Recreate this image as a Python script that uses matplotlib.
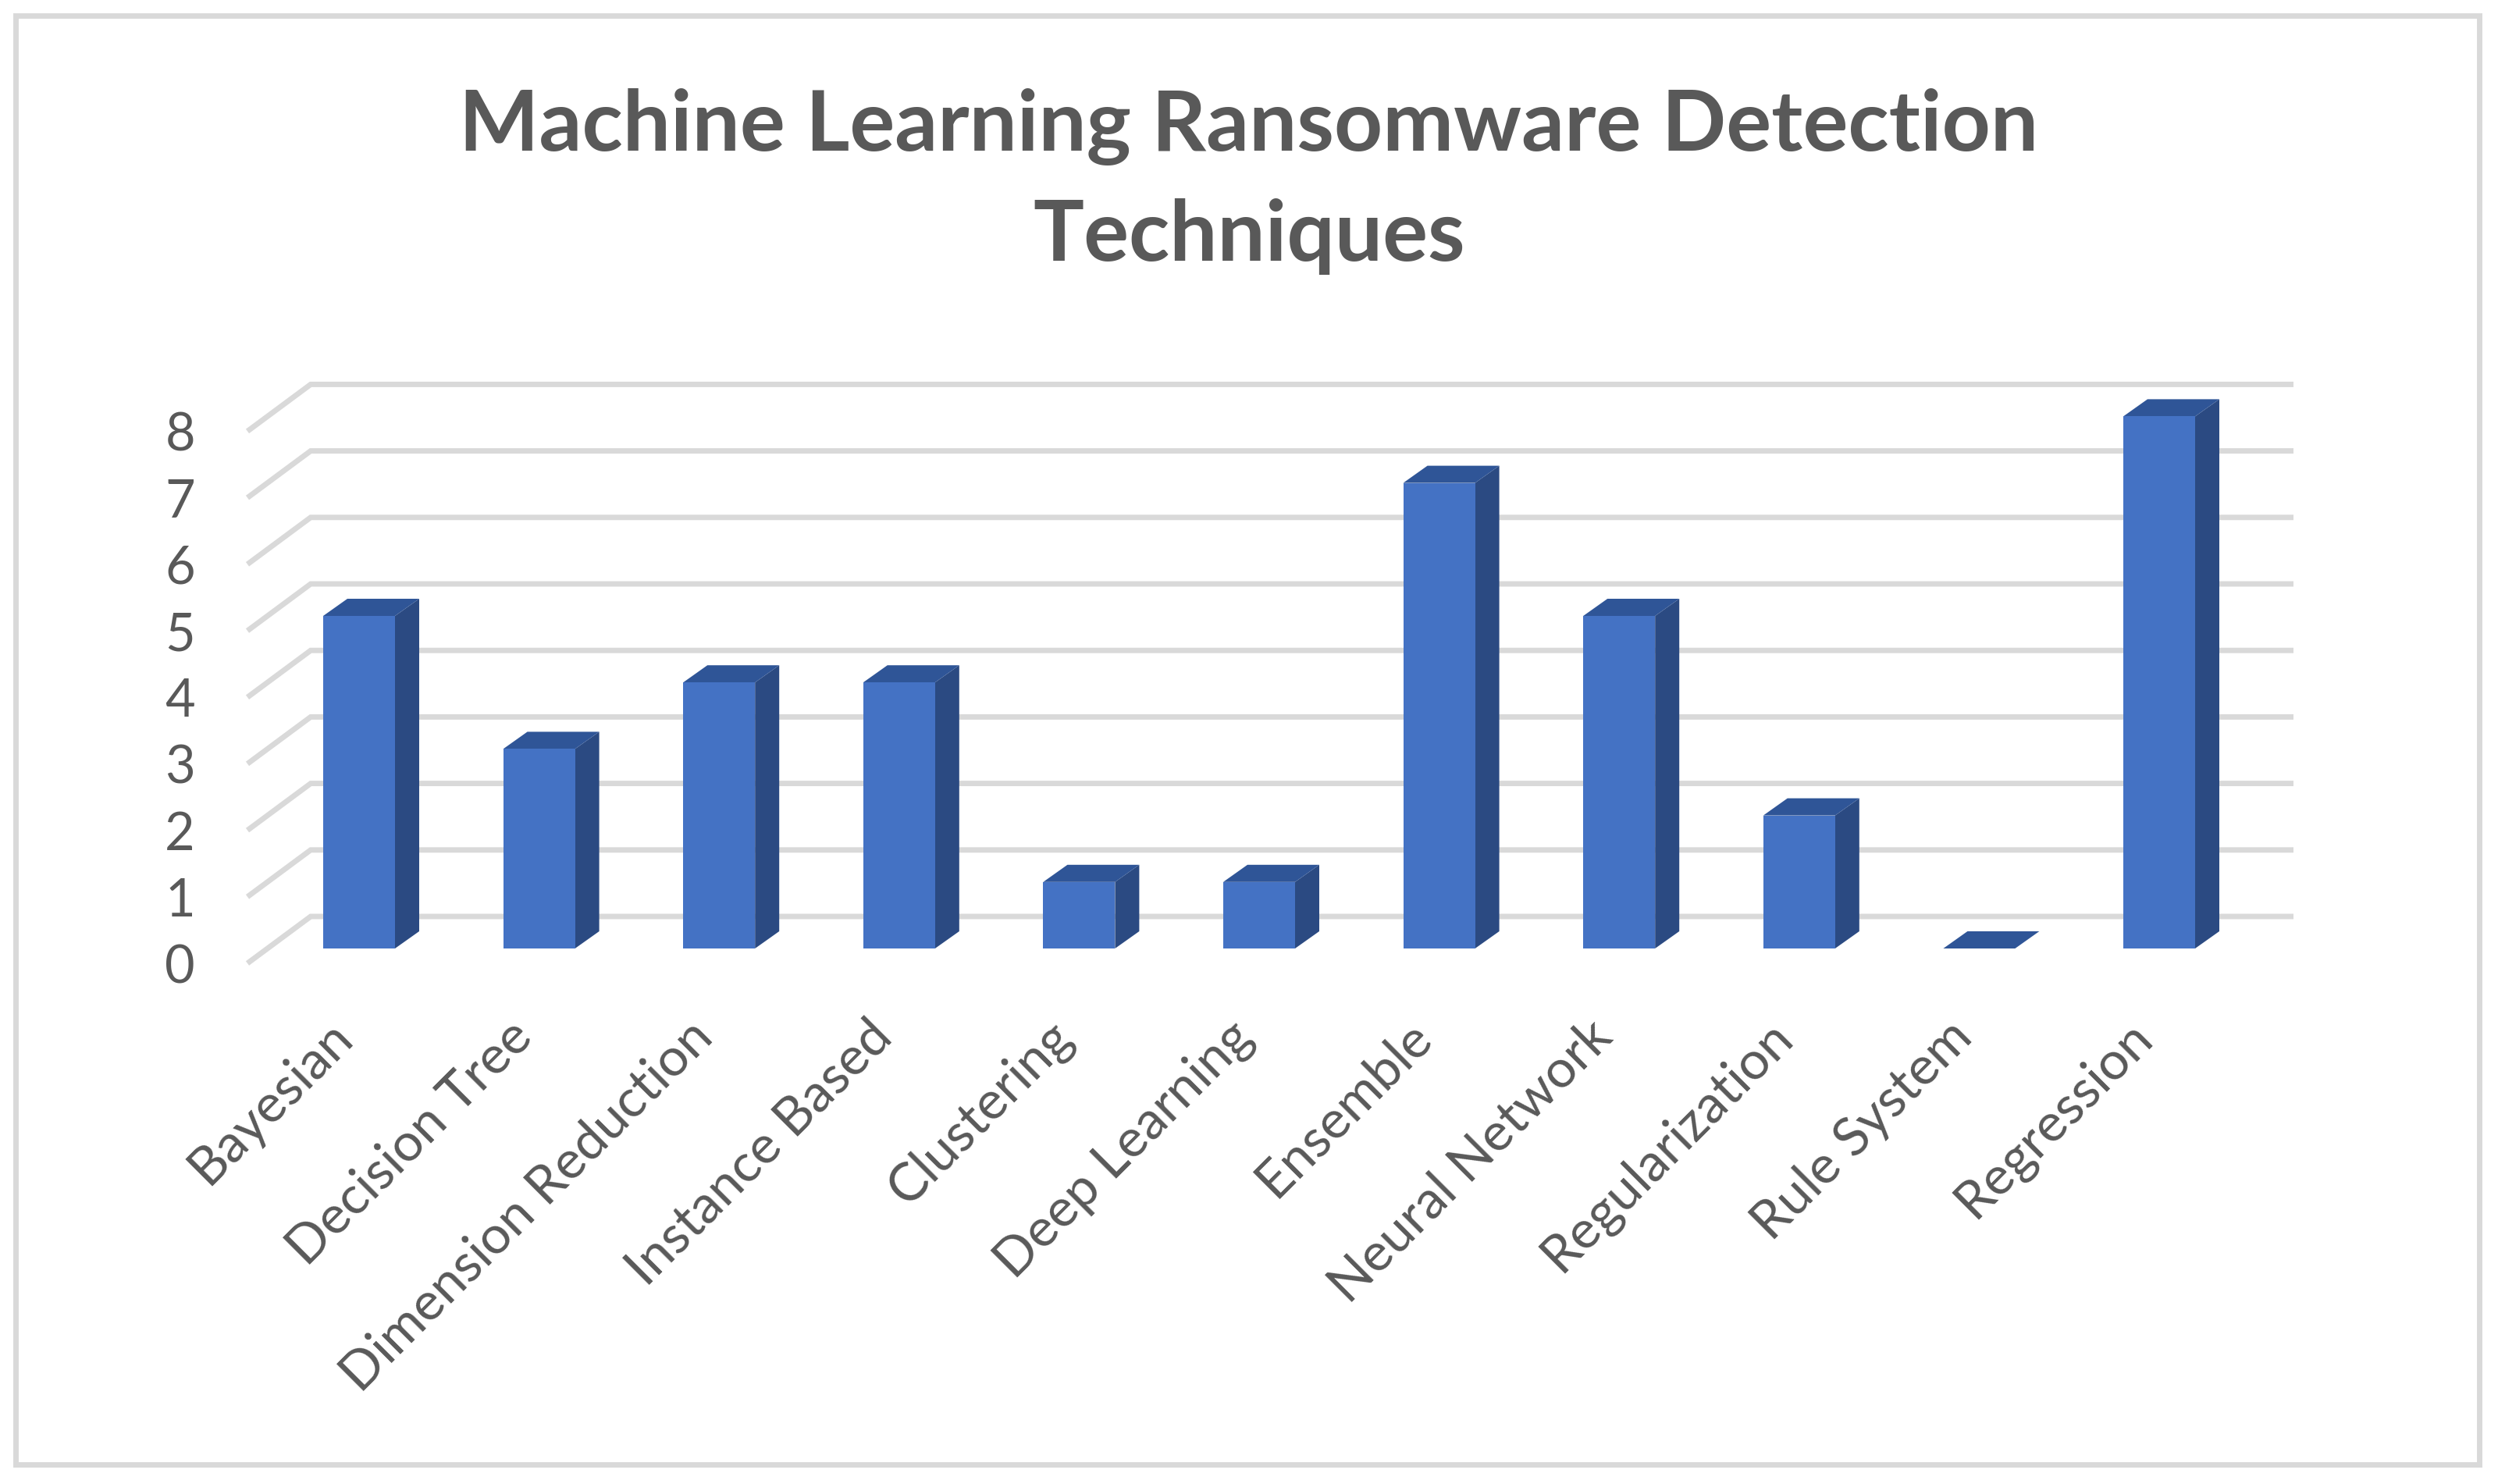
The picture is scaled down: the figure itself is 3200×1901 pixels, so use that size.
import matplotlib
matplotlib.use("Agg")
import matplotlib.pyplot as plt
from matplotlib.patches import Polygon, Rectangle

# --- data ---
categories = ["Bayesian", "Decision Tree", "Dimension Reduction", "Instance Based",
              "Clustering", "Deep Learning", "Ensemble", "Neural Network",
              "Regularization", "Rule System", "Regression"]
counts = [5, 3, 4, 4, 1, 1, 7, 5, 2, 0, 8]
y_ticks = [0, 1, 2, 3, 4, 5, 6, 7, 8]
title = "Machine Learning Ransomware Detection\nTechniques"

# --- style ---
W, H = 3200, 1901
GREY = "#595959"
GRID = "#D9D9D9"
FRONT, SIDE, TOP = "#4472C4", "#2B4A82", "#2F5597"

plt.rcParams["font.family"] = ["Lato", "DejaVu Sans"]

fig = plt.figure(figsize=(W / 100, H / 100), dpi=100)

# cadre extérieur
fig.add_artist(Rectangle((20 / W, 1 - 1876 / H), 3156 / W, 1856 / H, fill=False,
                         ec=GRID, lw=5, transform=fig.transFigure))

fig.text(1600 / W, 1 - 162 / H, title.split("\n")[0], ha="center", va="center",
         fontsize=78, fontweight="bold", color=GREY)
fig.text(1600 / W, 1 - 303 / H, title.split("\n")[1], ha="center", va="center",
         fontsize=78, fontweight="bold", color=GREY)

# axes = front plane of the bars : 1 unit x = 230.6 px, 1 unit y = 85.2 px
x_step, y_step = 230.6, 85.2
x0, y0 = 460.0, 1215.0           # pixel of category 0 / value 0
left, right = 300.0, 3000.0
bottom, top = 1300.0, 440.0
ax = fig.add_axes([left / W, 1 - bottom / H, (right - left) / W, (bottom - top) / H])
ax.set_xlim((left - x0) / x_step, (right - x0) / x_step)
ax.set_ylim((y0 - bottom) / y_step, (y0 - top) / y_step)
ax.patch.set_alpha(0)
for s in ax.spines.values():
    s.set_visible(False)

bar_w = 92 / x_step
dx, dy = 31 / x_step, 22 / y_step         # depth of one bar

# gridlines : floor goes from front-left to the back wall
grid_x0, grid_x1, grid_x2 = (317 - x0) / x_step, (398 - x0) / x_step, (2938 - x0) / x_step
back_off, front_off = (y0 - 1174) / y_step, (y0 - 1234) / y_step
for v in y_ticks:
    ax.plot([grid_x0, grid_x1, grid_x2], [v + front_off, v + back_off, v + back_off],
            color=GRID, lw=5, solid_joinstyle="miter", solid_capstyle="butt", zorder=1)

for i, v in enumerate(counts):
    l, r = i - bar_w / 2, i + bar_w / 2
    ax.add_patch(Polygon([(r, 0), (r + dx, dy), (r + dx, v + dy), (r, v)], fc=SIDE, ec="none", zorder=2))
    ax.add_patch(Polygon([(l, v), (r, v), (r + dx, v + dy), (l + dx, v + dy)], fc=TOP, ec="none", zorder=2))
ax.bar(range(len(counts)), counts, width=bar_w, color=FRONT, zorder=3)

ax.set_yticks([v + front_off for v in y_ticks], [str(v) for v in y_ticks],
              fontsize=48, color=GREY)
ax.tick_params(axis="y", length=0, pad=36)
# labels end a little left of the bar centre
label_shift = 41 / x_step
ax.set_xticks([i - label_shift for i in range(len(categories))], categories, rotation=45,
              ha="right", rotation_mode="anchor", fontsize=49, color=GREY)
ax.tick_params(axis="x", length=0, pad=-3)

fig.savefig("out.png", dpi=100, facecolor="white")
